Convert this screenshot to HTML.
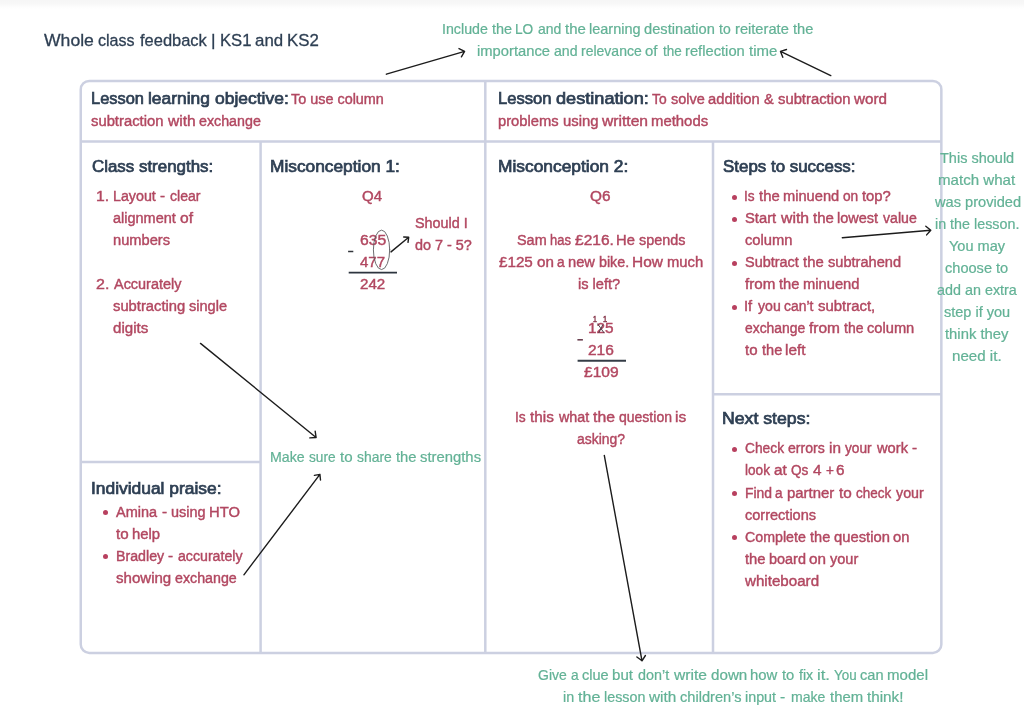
<!DOCTYPE html>
<html lang="en"><head><meta charset="utf-8"><title>Whole class feedback | KS1 and KS2</title>
<style>
html,body{margin:0;padding:0;background:#fff;}
body{width:1024px;height:719px;position:relative;overflow:hidden;font-family:"Liberation Sans",sans-serif;}
#pg{position:absolute;left:0;top:0;width:1024px;height:719px;filter:blur(0.45px);}
.t{position:absolute;white-space:pre;line-height:normal;transform-origin:0 0;}
.n{color:#2e3f53;-webkit-text-stroke:0.3px #2e3f53}
.r{color:#b24861;-webkit-text-stroke:0.4px #b24861}
.g{color:#63b296;-webkit-text-stroke:0.22px #63b296}
.d{color:#8a3c50;-webkit-text-stroke:0.5px #8a3c50}
.dot{position:absolute;width:5.2px;height:5.2px;border-radius:50%;background:#b8405f;}
svg{position:absolute;left:0;top:0;}
</style></head>
<body>
<div id="pg">
<div class="topfade" style="position:absolute;left:0;top:0;width:1024px;height:9px;background:linear-gradient(#f6f6f6 0,#f7f7f7 35%,#fdfdfd 80%,#fff 100%);"></div>
<svg width="1024" height="719" viewBox="0 0 1024 719" fill="none" stroke="#ccd0e1" stroke-width="2.5">
<rect x="80.75" y="80.9" width="860.6" height="572" rx="8.5" ry="8.5"/>
<path d="M80.75 141.55H941.35M485.3 80.9V652.9M260.6 141.55V652.9M713 141.55V652.9M80.75 461.95H260.6M713 394.35H941.35"/>
</svg>
<span class="t n" style="left:44.32px;top:30px;font-size:17.2px;transform:scaleX(1.0239);">Whole</span>
<span class="t n" style="left:98.42px;top:30px;font-size:17.2px;transform:scaleX(0.9343);">class</span>
<span class="t n" style="left:139.87px;top:30px;font-size:17.2px;transform:scaleX(0.9581);">feedback</span>
<span class="t n" style="left:210.83px;top:30px;font-size:17.2px;transform:scaleX(1.0231);">|</span>
<span class="t n" style="left:219.73px;top:30px;font-size:17.2px;transform:scaleX(0.9698);">KS1</span>
<span class="t n" style="left:255.38px;top:30px;font-size:17.2px;transform:scaleX(0.9809);">and</span>
<span class="t n" style="left:286.72px;top:30px;font-size:17.2px;transform:scaleX(0.9798);">KS2</span>
<span class="t g" style="left:441.69px;top:21px;font-size:14.3px;transform:scaleX(0.9956);">Include</span>
<span class="t g" style="left:491.88px;top:21px;font-size:14.3px;transform:scaleX(1.0120);">the</span>
<span class="t g" style="left:515.38px;top:21px;font-size:14.3px;transform:scaleX(0.9557);">LO</span>
<span class="t g" style="left:537.51px;top:21px;font-size:14.3px;transform:scaleX(0.9788);">and</span>
<span class="t g" style="left:564.87px;top:21px;font-size:14.3px;transform:scaleX(1.0488);">the</span>
<span class="t g" style="left:589.22px;top:21px;font-size:14.3px;transform:scaleX(1.0136);">learning</span>
<span class="t g" style="left:644.38px;top:21px;font-size:14.3px;transform:scaleX(1.0256);">destination</span>
<span class="t g" style="left:719.29px;top:21px;font-size:14.3px;transform:scaleX(0.9771);">to</span>
<span class="t g" style="left:734.53px;top:21px;font-size:14.3px;transform:scaleX(1.0254);">reiterate</span>
<span class="t g" style="left:792.58px;top:21px;font-size:14.3px;transform:scaleX(1.0251);">the</span>
<span class="t g" style="left:477.01px;top:43px;font-size:14.3px;transform:scaleX(1.0321);">importance</span>
<span class="t g" style="left:553.90px;top:43px;font-size:14.3px;transform:scaleX(0.9878);">and</span>
<span class="t g" style="left:580.77px;top:43px;font-size:14.3px;transform:scaleX(0.9793);">relevance</span>
<span class="t g" style="left:645.37px;top:43px;font-size:14.3px;transform:scaleX(1.0448);">of</span>
<span class="t g" style="left:662.80px;top:43px;font-size:14.3px;transform:scaleX(0.9437);">the</span>
<span class="t g" style="left:685.12px;top:43px;font-size:14.3px;transform:scaleX(1.0306);">reflection</span>
<span class="t g" style="left:748.87px;top:43px;font-size:14.3px;transform:scaleX(1.0475);">time</span>
<span class="t n" style="left:91.25px;top:90px;font-size:16.0px;-webkit-text-stroke:0.7px #2e3f53;transform:scaleX(1.0255);">Lesson</span>
<span class="t n" style="left:148.33px;top:90px;font-size:16.0px;-webkit-text-stroke:0.7px #2e3f53;transform:scaleX(1.0872);">learning</span>
<span class="t n" style="left:214.77px;top:90px;font-size:16.0px;-webkit-text-stroke:0.7px #2e3f53;transform:scaleX(1.0907);">objective:</span>
<span class="t r" style="left:290.88px;top:91px;font-size:14.0px;transform:scaleX(1.0287);">To use column</span>
<span class="t r" style="left:91.19px;top:113px;font-size:14.0px;transform:scaleX(1.0577);">subtraction</span>
<span class="t r" style="left:167.72px;top:113px;font-size:14.0px;transform:scaleX(1.1146);">with</span>
<span class="t r" style="left:198.89px;top:113px;font-size:14.0px;transform:scaleX(1.0185);">exchange</span>
<span class="t n" style="left:497.94px;top:90px;font-size:16.0px;-webkit-text-stroke:0.7px #2e3f53;transform:scaleX(1.0357);">Lesson</span>
<span class="t n" style="left:555.94px;top:90px;font-size:16.0px;-webkit-text-stroke:0.7px #2e3f53;transform:scaleX(1.1342);">destination:</span>
<span class="t r" style="left:652.39px;top:91px;font-size:14.0px;transform:scaleX(0.9876);">To</span>
<span class="t r" style="left:670.80px;top:91px;font-size:14.0px;transform:scaleX(1.0344);">solve</span>
<span class="t r" style="left:708.37px;top:91px;font-size:14.0px;transform:scaleX(1.0531);">addition</span>
<span class="t r" style="left:763.59px;top:91px;font-size:14.0px;transform:scaleX(1.0386);">&amp;</span>
<span class="t r" style="left:777.69px;top:91px;font-size:14.0px;transform:scaleX(1.0577);">subtraction</span>
<span class="t r" style="left:854.22px;top:91px;font-size:14.0px;transform:scaleX(1.0861);">word</span>
<span class="t r" style="left:498.45px;top:113px;font-size:14.0px;transform:scaleX(1.0514);">problems</span>
<span class="t r" style="left:562.54px;top:113px;font-size:14.0px;transform:scaleX(1.0601);">using</span>
<span class="t r" style="left:602.12px;top:113px;font-size:14.0px;transform:scaleX(1.1168);">written</span>
<span class="t r" style="left:651.21px;top:113px;font-size:14.0px;transform:scaleX(1.0639);">methods</span>
<span class="t n" style="left:91.64px;top:158px;font-size:16.0px;-webkit-text-stroke:0.7px #2e3f53;transform:scaleX(1.0566);">Class strengths:</span>
<span class="t r" style="left:96.40px;top:188px;font-size:14.0px;transform:scaleX(1.1253);">1.</span>
<span class="t r" style="left:113.23px;top:188px;font-size:14.0px;transform:scaleX(1.0190);">Layout</span>
<span class="t r" style="left:160.32px;top:188px;font-size:14.0px;transform:scaleX(1.0913);">-</span>
<span class="t r" style="left:170.20px;top:188px;font-size:14.0px;transform:scaleX(1.0062);">clear</span>
<span class="t r" style="left:113.28px;top:210px;font-size:14.0px;transform:scaleX(1.0342);">alignment</span>
<span class="t r" style="left:180.35px;top:210px;font-size:14.0px;transform:scaleX(1.1119);">of</span>
<span class="t r" style="left:113.13px;top:232px;font-size:14.0px;transform:scaleX(1.0465);">numbers</span>
<span class="t r" style="left:96.19px;top:276px;font-size:14.0px;transform:scaleX(1.1451);">2.</span>
<span class="t r" style="left:114.07px;top:276px;font-size:14.0px;transform:scaleX(1.0321);">Accurately</span>
<span class="t r" style="left:113.49px;top:298px;font-size:14.0px;transform:scaleX(1.0546);">subtracting</span>
<span class="t r" style="left:189.39px;top:298px;font-size:14.0px;transform:scaleX(1.0403);">single</span>
<span class="t r" style="left:113.47px;top:320px;font-size:14.0px;transform:scaleX(1.0795);">digits</span>
<span class="t n" style="left:269.88px;top:158px;font-size:16.0px;-webkit-text-stroke:0.7px #2e3f53;transform:scaleX(1.0819);">Misconception 1:</span>
<span class="t r" style="left:362.49px;top:188px;font-size:14.0px;transform:scaleX(1.0737);">Q4</span>
<span class="t r" style="left:359.50px;top:232px;font-size:14.0px;transform:scaleX(1.1242);">635</span>
<span class="t r" style="left:360.35px;top:254px;font-size:14.0px;transform:scaleX(1.0746);">477</span>
<span class="t r" style="left:360.24px;top:276px;font-size:14.0px;transform:scaleX(1.0797);">242</span>
<span class="t r" style="left:414.85px;top:215px;font-size:14.0px;transform:scaleX(1.0274);">Should I</span>
<span class="t r" style="left:414.90px;top:237px;font-size:14.0px;transform:scaleX(1.0285);">do 7 - 5?</span>
<span class="t n" style="left:497.98px;top:158px;font-size:16.0px;-webkit-text-stroke:0.7px #2e3f53;transform:scaleX(1.0854);">Misconception 2:</span>
<span class="t r" style="left:590.37px;top:188px;font-size:14.0px;transform:scaleX(1.0979);">Q6</span>
<span class="t r" style="left:516.74px;top:232px;font-size:14.0px;transform:scaleX(1.0306);">Sam</span>
<span class="t r" style="left:549.60px;top:232px;font-size:14.0px;transform:scaleX(0.9272);">has</span>
<span class="t r" style="left:574.66px;top:232px;font-size:14.0px;transform:scaleX(1.1079);">£216.</span>
<span class="t r" style="left:615.89px;top:232px;font-size:14.0px;transform:scaleX(1.0517);">He</span>
<span class="t r" style="left:638.70px;top:232px;font-size:14.0px;transform:scaleX(1.0260);">spends</span>
<span class="t r" style="left:499.17px;top:254px;font-size:14.0px;transform:scaleX(1.0862);">£125</span>
<span class="t r" style="left:536.76px;top:254px;font-size:14.0px;transform:scaleX(1.0842);">on</span>
<span class="t r" style="left:557.11px;top:254px;font-size:14.0px;transform:scaleX(0.9839);">a</span>
<span class="t r" style="left:568.13px;top:254px;font-size:14.0px;transform:scaleX(1.0473);">new</span>
<span class="t r" style="left:599.18px;top:254px;font-size:14.0px;transform:scaleX(1.0208);">bike.</span>
<span class="t r" style="left:631.83px;top:254px;font-size:14.0px;transform:scaleX(1.1029);">How</span>
<span class="t r" style="left:666.82px;top:254px;font-size:14.0px;transform:scaleX(1.0557);">much</span>
<span class="t r" style="left:578.02px;top:276px;font-size:14.0px;transform:scaleX(1.0434);">is left?</span>
<span class="t r" style="left:588.33px;top:320px;font-size:14.0px;transform:scaleX(1.0966);">125</span>
<span class="t r" style="left:588.22px;top:342px;font-size:14.0px;transform:scaleX(1.1071);">216</span>
<span class="t r" style="left:583.56px;top:364px;font-size:14.0px;transform:scaleX(1.1102);">£109</span>
<span class="t d" style="left:593.37px;top:314px;font-size:8.6px;transform:scaleX(0.8098);">1</span>
<span class="t d" style="left:603.43px;top:314px;font-size:8.6px;transform:scaleX(0.8638);">1</span>
<span class="t r" style="left:515.13px;top:409px;font-size:14.0px;transform:scaleX(0.9855);">Is</span>
<span class="t r" style="left:530.17px;top:409px;font-size:14.0px;transform:scaleX(1.0945);">this</span>
<span class="t r" style="left:558.52px;top:409px;font-size:14.0px;transform:scaleX(1.0227);">what</span>
<span class="t r" style="left:593.46px;top:409px;font-size:14.0px;transform:scaleX(1.1252);">the</span>
<span class="t r" style="left:619.11px;top:409px;font-size:14.0px;transform:scaleX(1.0005);">question</span>
<span class="t r" style="left:675.17px;top:409px;font-size:14.0px;transform:scaleX(1.1031);">is</span>
<span class="t r" style="left:577.11px;top:431px;font-size:14.0px;transform:scaleX(0.9949);">asking?</span>
<span class="t n" style="left:722.83px;top:158px;font-size:16.0px;-webkit-text-stroke:0.7px #2e3f53;transform:scaleX(1.0568);">Steps to success:</span>
<span class="t r" style="left:744.44px;top:188px;font-size:14.0px;transform:scaleX(0.9745);">Is</span>
<span class="t r" style="left:759.38px;top:188px;font-size:14.0px;transform:scaleX(1.0608);">the</span>
<span class="t r" style="left:783.43px;top:188px;font-size:14.0px;transform:scaleX(1.0461);">minuend</span>
<span class="t r" style="left:843.13px;top:188px;font-size:14.0px;transform:scaleX(0.9776);">on</span>
<span class="t r" style="left:862.28px;top:188px;font-size:14.0px;transform:scaleX(1.0597);">top?</span>
<span class="t r" style="left:744.93px;top:210px;font-size:14.0px;transform:scaleX(1.0532);">Start</span>
<span class="t r" style="left:781.02px;top:210px;font-size:14.0px;transform:scaleX(1.1271);">with</span>
<span class="t r" style="left:812.87px;top:210px;font-size:14.0px;transform:scaleX(1.0715);">the</span>
<span class="t r" style="left:837.12px;top:210px;font-size:14.0px;transform:scaleX(1.0342);">lowest</span>
<span class="t r" style="left:883.05px;top:210px;font-size:14.0px;transform:scaleX(1.0092);">value</span>
<span class="t r" style="left:744.77px;top:232px;font-size:14.0px;transform:scaleX(1.0521);">column</span>
<span class="t r" style="left:744.94px;top:254px;font-size:14.0px;transform:scaleX(1.0323);">Subtract</span>
<span class="t r" style="left:803.48px;top:254px;font-size:14.0px;transform:scaleX(1.0608);">the</span>
<span class="t r" style="left:828.09px;top:254px;font-size:14.0px;transform:scaleX(1.0427);">subtrahend</span>
<span class="t r" style="left:745.18px;top:276px;font-size:14.0px;transform:scaleX(1.0849);">from</span>
<span class="t r" style="left:779.38px;top:276px;font-size:14.0px;transform:scaleX(1.0447);">the</span>
<span class="t r" style="left:803.12px;top:276px;font-size:14.0px;transform:scaleX(1.0507);">minuend</span>
<span class="t r" style="left:744.34px;top:298px;font-size:14.0px;transform:scaleX(1.0541);">If</span>
<span class="t r" style="left:757.57px;top:298px;font-size:14.0px;transform:scaleX(1.0070);">you</span>
<span class="t r" style="left:783.81px;top:298px;font-size:14.0px;transform:scaleX(0.9926);">can’t</span>
<span class="t r" style="left:817.68px;top:298px;font-size:14.0px;transform:scaleX(1.0664);">subtract,</span>
<span class="t r" style="left:745.01px;top:320px;font-size:14.0px;transform:scaleX(0.9926);">exchange</span>
<span class="t r" style="left:809.48px;top:320px;font-size:14.0px;transform:scaleX(1.1072);">from</span>
<span class="t r" style="left:844.29px;top:320px;font-size:14.0px;transform:scaleX(0.9964);">the</span>
<span class="t r" style="left:867.48px;top:320px;font-size:14.0px;transform:scaleX(1.0475);">column</span>
<span class="t r" style="left:745.07px;top:342px;font-size:14.0px;transform:scaleX(1.0721);">to</span>
<span class="t r" style="left:761.78px;top:342px;font-size:14.0px;transform:scaleX(1.0393);">the</span>
<span class="t r" style="left:785.37px;top:342px;font-size:14.0px;transform:scaleX(1.0947);">left</span>
<span class="t n" style="left:722.15px;top:410px;font-size:16.0px;-webkit-text-stroke:0.7px #2e3f53;transform:scaleX(1.1054);">Next steps:</span>
<span class="t r" style="left:744.90px;top:440px;font-size:14.0px;transform:scaleX(0.9838);">Check</span>
<span class="t r" style="left:788.40px;top:440px;font-size:14.0px;transform:scaleX(1.0057);">errors</span>
<span class="t r" style="left:828.67px;top:440px;font-size:14.0px;transform:scaleX(1.0949);">in</span>
<span class="t r" style="left:845.07px;top:440px;font-size:14.0px;transform:scaleX(0.9775);">your</span>
<span class="t r" style="left:876.52px;top:440px;font-size:14.0px;transform:scaleX(1.0493);">work</span>
<span class="t r" style="left:911.92px;top:440px;font-size:14.0px;transform:scaleX(1.0949);">-</span>
<span class="t r" style="left:744.98px;top:462px;font-size:14.0px;transform:scaleX(0.9717);">look</span>
<span class="t r" style="left:774.35px;top:462px;font-size:14.0px;transform:scaleX(1.0941);">at</span>
<span class="t r" style="left:791.46px;top:462px;font-size:14.0px;transform:scaleX(0.9702);">Qs</span>
<span class="t r" style="left:812.75px;top:462px;font-size:14.0px;transform:scaleX(1.0941);">4</span>
<span class="t r" style="left:825.84px;top:462px;font-size:14.0px;transform:scaleX(0.9702);">+</span>
<span class="t r" style="left:835.72px;top:462px;font-size:14.0px;transform:scaleX(1.0941);">6</span>
<span class="t r" style="left:744.76px;top:485px;font-size:14.0px;transform:scaleX(0.9951);">Find</span>
<span class="t r" style="left:775.42px;top:485px;font-size:14.0px;transform:scaleX(0.9687);">a</span>
<span class="t r" style="left:787.04px;top:485px;font-size:14.0px;transform:scaleX(1.0656);">partner</span>
<span class="t r" style="left:838.87px;top:485px;font-size:14.0px;transform:scaleX(1.0923);">to</span>
<span class="t r" style="left:855.53px;top:485px;font-size:14.0px;transform:scaleX(0.9628);">check</span>
<span class="t r" style="left:895.77px;top:485px;font-size:14.0px;transform:scaleX(1.0197);">your</span>
<span class="t r" style="left:744.78px;top:507px;font-size:14.0px;transform:scaleX(1.0376);">corrections</span>
<span class="t r" style="left:744.88px;top:529px;font-size:14.0px;transform:scaleX(1.0150);">Complete</span>
<span class="t r" style="left:809.88px;top:529px;font-size:14.0px;transform:scaleX(1.0393);">the</span>
<span class="t r" style="left:833.88px;top:529px;font-size:14.0px;transform:scaleX(1.0550);">question</span>
<span class="t r" style="left:893.18px;top:529px;font-size:14.0px;transform:scaleX(1.0515);">on</span>
<span class="t r" style="left:745.08px;top:551px;font-size:14.0px;transform:scaleX(1.0554);">the</span>
<span class="t r" style="left:769.07px;top:551px;font-size:14.0px;transform:scaleX(1.0311);">board</span>
<span class="t r" style="left:809.46px;top:551px;font-size:14.0px;transform:scaleX(1.0913);">on</span>
<span class="t r" style="left:830.46px;top:551px;font-size:14.0px;transform:scaleX(1.0383);">your</span>
<span class="t r" style="left:745.42px;top:573px;font-size:14.0px;transform:scaleX(1.0812);">whiteboard</span>
<span class="t n" style="left:90.50px;top:480px;font-size:16.0px;-webkit-text-stroke:0.7px #2e3f53;transform:scaleX(1.0868);">Individual praise:</span>
<span class="t r" style="left:116.37px;top:504px;font-size:14.0px;transform:scaleX(1.0354);">Amina</span>
<span class="t r" style="left:161.82px;top:504px;font-size:14.0px;transform:scaleX(1.0969);">-</span>
<span class="t r" style="left:171.16px;top:504px;font-size:14.0px;transform:scaleX(1.0317);">using</span>
<span class="t r" style="left:208.59px;top:504px;font-size:14.0px;transform:scaleX(1.0553);">HTO</span>
<span class="t r" style="left:116.17px;top:526px;font-size:14.0px;transform:scaleX(1.0813);">to</span>
<span class="t r" style="left:132.17px;top:526px;font-size:14.0px;transform:scaleX(1.0598);">help</span>
<span class="t r" style="left:115.94px;top:548px;font-size:14.0px;transform:scaleX(1.0144);">Bradley</span>
<span class="t r" style="left:168.42px;top:548px;font-size:14.0px;transform:scaleX(1.0865);">-</span>
<span class="t r" style="left:178.00px;top:548px;font-size:14.0px;transform:scaleX(1.0113);">accurately</span>
<span class="t r" style="left:115.98px;top:570px;font-size:14.0px;transform:scaleX(1.0756);">showing</span>
<span class="t r" style="left:174.70px;top:570px;font-size:14.0px;transform:scaleX(1.0168);">exchange</span>
<span class="t g" style="left:270.34px;top:449px;font-size:14.3px;transform:scaleX(0.9910);">Make</span>
<span class="t g" style="left:309.12px;top:449px;font-size:14.3px;transform:scaleX(0.9579);">sure</span>
<span class="t g" style="left:340.07px;top:449px;font-size:14.3px;transform:scaleX(1.0581);">to</span>
<span class="t g" style="left:356.81px;top:449px;font-size:14.3px;transform:scaleX(0.9718);">share</span>
<span class="t g" style="left:395.88px;top:449px;font-size:14.3px;transform:scaleX(1.0331);">the</span>
<span class="t g" style="left:420.49px;top:449px;font-size:14.3px;transform:scaleX(1.0381);">strengths</span>
<span class="t g" style="left:940.27px;top:150px;font-size:14.3px;transform:scaleX(1.0144);">This should</span>
<span class="t g" style="left:938.00px;top:172px;font-size:14.3px;transform:scaleX(1.0548);">match what</span>
<span class="t g" style="left:934.62px;top:194px;font-size:14.3px;transform:scaleX(1.0223);">was provided</span>
<span class="t g" style="left:935.14px;top:216px;font-size:14.3px;transform:scaleX(1.0014);">in the lesson.</span>
<span class="t g" style="left:948.58px;top:238px;font-size:14.3px;transform:scaleX(1.0171);">You may</span>
<span class="t g" style="left:945.08px;top:260px;font-size:14.3px;transform:scaleX(1.0199);">choose to</span>
<span class="t g" style="left:936.79px;top:282px;font-size:14.3px;transform:scaleX(1.0041);">add an extra</span>
<span class="t g" style="left:944.40px;top:304px;font-size:14.3px;transform:scaleX(1.0154);">step if you</span>
<span class="t g" style="left:945.38px;top:326px;font-size:14.3px;transform:scaleX(1.0369);">think they</span>
<span class="t g" style="left:952.40px;top:348px;font-size:14.3px;transform:scaleX(1.0573);">need it.</span>
<span class="t g" style="left:538.30px;top:667px;font-size:14.3px;transform:scaleX(0.9790);">Give</span>
<span class="t g" style="left:571.01px;top:667px;font-size:14.3px;transform:scaleX(0.9642);">a</span>
<span class="t g" style="left:581.88px;top:667px;font-size:14.3px;transform:scaleX(1.0187);">clue</span>
<span class="t g" style="left:612.13px;top:667px;font-size:14.3px;transform:scaleX(1.0533);">but</span>
<span class="t g" style="left:637.50px;top:667px;font-size:14.3px;transform:scaleX(1.0051);">don’t</span>
<span class="t g" style="left:673.72px;top:667px;font-size:14.3px;transform:scaleX(1.0940);">write</span>
<span class="t g" style="left:710.56px;top:667px;font-size:14.3px;transform:scaleX(1.0613);">down</span>
<span class="t g" style="left:749.97px;top:667px;font-size:14.3px;transform:scaleX(1.0428);">how</span>
<span class="t g" style="left:782.28px;top:667px;font-size:14.3px;transform:scaleX(1.0311);">to</span>
<span class="t g" style="left:798.90px;top:667px;font-size:14.3px;transform:scaleX(0.9936);">fix</span>
<span class="t g" style="left:816.99px;top:667px;font-size:14.3px;transform:scaleX(1.1591);">it.</span>
<span class="t g" style="left:834.21px;top:667px;font-size:14.3px;transform:scaleX(0.9383);">You</span>
<span class="t g" style="left:860.48px;top:667px;font-size:14.3px;transform:scaleX(1.0203);">can</span>
<span class="t g" style="left:887.20px;top:667px;font-size:14.3px;transform:scaleX(1.0531);">model</span>
<span class="t g" style="left:562.64px;top:689px;font-size:14.3px;transform:scaleX(1.0010);">in</span>
<span class="t g" style="left:577.76px;top:689px;font-size:14.3px;transform:scaleX(1.1224);">the</span>
<span class="t g" style="left:603.54px;top:689px;font-size:14.3px;transform:scaleX(1.0004);">lesson</span>
<span class="t g" style="left:649.12px;top:689px;font-size:14.3px;transform:scaleX(1.0708);">with</span>
<span class="t g" style="left:679.88px;top:689px;font-size:14.3px;transform:scaleX(1.0228);">children’s</span>
<span class="t g" style="left:745.04px;top:689px;font-size:14.3px;transform:scaleX(1.0004);">input</span>
<span class="t g" style="left:780.40px;top:689px;font-size:14.3px;transform:scaleX(1.0950);">-</span>
<span class="t g" style="left:791.17px;top:689px;font-size:14.3px;transform:scaleX(0.9843);">make</span>
<span class="t g" style="left:829.87px;top:689px;font-size:14.3px;transform:scaleX(1.0401);">them</span>
<span class="t g" style="left:866.87px;top:689px;font-size:14.3px;transform:scaleX(1.0656);">think!</span>
<i class="dot" style="left:731.6px;top:194.6px"></i>
<i class="dot" style="left:731.6px;top:216.7px"></i>
<i class="dot" style="left:731.6px;top:260.7px"></i>
<i class="dot" style="left:731.6px;top:304.8px"></i>
<i class="dot" style="left:731.8px;top:446.6px"></i>
<i class="dot" style="left:731.8px;top:490.7px"></i>
<i class="dot" style="left:731.8px;top:534.8px"></i>
<i class="dot" style="left:102.7px;top:510.1px"></i>
<i class="dot" style="left:102.7px;top:554.2px"></i>
<svg width="1024" height="719" viewBox="0 0 1024 719" fill="none" stroke="#1c1c1c" stroke-linecap="round" stroke-linejoin="round">
<path d="M386.4 74.2L464.6 51.4M459.0 48.6L464.6 51.4L461.4 56.8" stroke-width="1.4"/>
<path d="M830.8 75.6L780.5 51.4M782.8 57.3L780.5 51.4L786.5 49.5" stroke-width="1.4"/>
<path d="M842.3 237.8L930.8 230.2M925.8 226.3L930.8 230.2L926.6 234.9" stroke-width="1.4"/>
<path d="M200.5 343.4L316.1 437.5M315.2 431.3L316.1 437.5L309.8 437.9" stroke-width="1.4"/>
<path d="M243.9 574.8L319.9 474.4M314.4 475.4L319.9 474.4L320.5 480.0" stroke-width="1.4"/>
<path d="M604.3 455.4L642.0 660.8M645.4 655.5L642.0 660.8L636.9 657.0" stroke-width="1.4"/>
<path d="M391.0 251.9L408.7 237.3M403.7 237.0L408.7 237.3L408.0 242.3" stroke-width="1.4"/>
<ellipse cx="381.55" cy="249.85" rx="8.15" ry="19.7" stroke="#5c5c60" stroke-width="0.9"/>
<line x1="348.7" y1="272.7" x2="397" y2="272.7" stroke="#2d343f" stroke-width="1.7" stroke-linecap="butt"/>
<line x1="348.1" y1="251.5" x2="353.3" y2="251.5" stroke="#33363c" stroke-width="1.5" stroke-linecap="butt"/>
<line x1="577.6" y1="360.7" x2="626" y2="360.7" stroke="#343c46" stroke-width="2" stroke-linecap="butt"/>
<line x1="577.4" y1="339.8" x2="582.9" y2="339.8" stroke="#6b4050" stroke-width="1.6" stroke-linecap="butt"/>
<path d="M597.7 323.9L604 332.8M602.7 324.9L598.9 332.6" stroke="#4a3a44" stroke-width="0.95"/>
</svg>
</div>
</body></html>
